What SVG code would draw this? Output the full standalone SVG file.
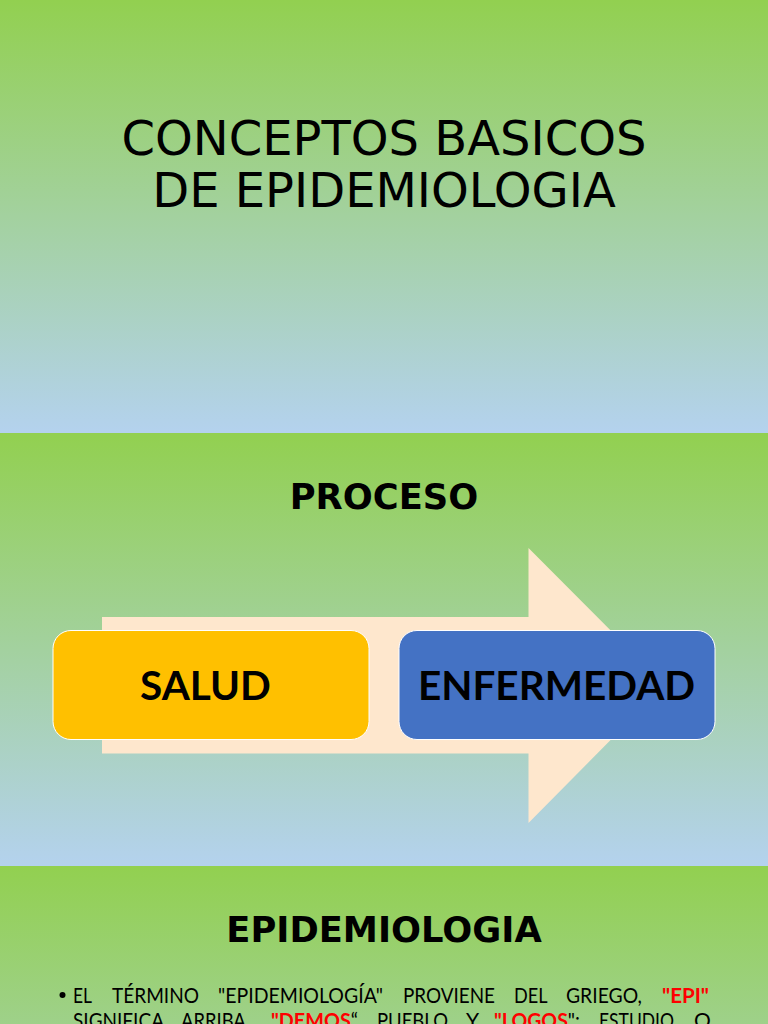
<svg xmlns="http://www.w3.org/2000/svg" width="768" height="1024" viewBox="0 0 768 1024">
<style>
.t{font-family:"DejaVu Sans",sans-serif;text-anchor:middle;fill:#000}
.h{font-weight:bold;font-size:35.300px}
.n{font-family:Lato,sans-serif;font-weight:bold;font-size:40.500px;text-anchor:middle;fill:#000}
.b{font-family:Lato,sans-serif;font-size:21px;fill:#000}
.r{font-weight:bold;fill:#f00}
.box{stroke:#fff;stroke-width:1}
</style>
<defs>
<linearGradient id="g" x1="0" y1="0" x2="0" y2="1">
<stop offset="0" stop-color="#92d050"/>
<stop offset="1" stop-color="#b4d2ee"/>
</linearGradient>
</defs>
<rect id="slide1" x="0" y="0" width="768" height="433" fill="url(#g)"/>
<rect id="slide2" x="0" y="433" width="768" height="433" fill="url(#g)"/>
<rect id="slide3" x="0" y="866" width="768" height="433" fill="url(#g)"/>
<g id="title">
<text class="t" x="384" y="155" font-size="48">CONCEPTOS BASICOS</text>
<text class="t" x="384" y="207" font-size="48">DE EPIDEMIOLOGIA</text>
</g>
<text class="t h" x="384" y="508.500">PROCESO</text>
<g id="connectors">
<polygon id="arrow" points="102,617 528.500,617 528.500,548 665,685 528.500,823 528.500,753.500 102,753.500" fill="#fee7cd"/>
</g>
<g id="salud">
<rect class="box" x="53" y="630.500" width="316" height="109" rx="18" fill="#ffc000"/>
<text class="n" x="205.500" y="699.500">SALUD</text>
</g>
<g id="enfermedad">
<rect class="box" x="399" y="630.500" width="316" height="109" rx="18" fill="#4472c4"/>
<text class="n" x="556.500" y="699.500">ENFERMEDAD</text>
</g>
<text class="t h" x="384" y="941.500">EPIDEMIOLOGIA</text>
<g id="body">
<circle cx="62.500" cy="995" r="3" fill="#000"/>
<text class="b" x="73" y="1002.500" textLength="19" lengthAdjust="spacingAndGlyphs">EL</text>
<text class="b" x="112" y="1002.500" textLength="87" lengthAdjust="spacingAndGlyphs">TÉRMINO</text>
<text class="b" x="218" y="1002.500" textLength="165" lengthAdjust="spacingAndGlyphs">"EPIDEMIOLOGÍA"</text>
<text class="b" x="403" y="1002.500" textLength="92" lengthAdjust="spacingAndGlyphs">PROVIENE</text>
<text class="b" x="514" y="1002.500" textLength="33.500" lengthAdjust="spacingAndGlyphs">DEL</text>
<text class="b" x="566" y="1002.500" textLength="76" lengthAdjust="spacingAndGlyphs">GRIEGO,</text>
<text class="b r" x="662" y="1002.500" textLength="47" lengthAdjust="spacingAndGlyphs">"EPI"</text>
<text class="b" x="73" y="1027.500" textLength="91" lengthAdjust="spacingAndGlyphs">SIGNIFICA</text>
<text class="b" x="181" y="1027.500" textLength="69" lengthAdjust="spacingAndGlyphs">ARRIBA,</text>
<text class="b" x="271" y="1027.500" textLength="87" lengthAdjust="spacingAndGlyphs"><tspan class="r">"DEMOS</tspan>“</text>
<text class="b" x="377" y="1027.500" textLength="71" lengthAdjust="spacingAndGlyphs">PUEBLO</text>
<text class="b" x="466" y="1027.500">Y</text>
<text class="b" x="494" y="1027.500" textLength="86" lengthAdjust="spacingAndGlyphs"><tspan class="r">"LOGOS</tspan>":</text>
<text class="b" x="599" y="1027.500" textLength="75" lengthAdjust="spacingAndGlyphs">ESTUDIO</text>
<text class="b" x="694" y="1027.500">O</text>
</g>
</svg>
